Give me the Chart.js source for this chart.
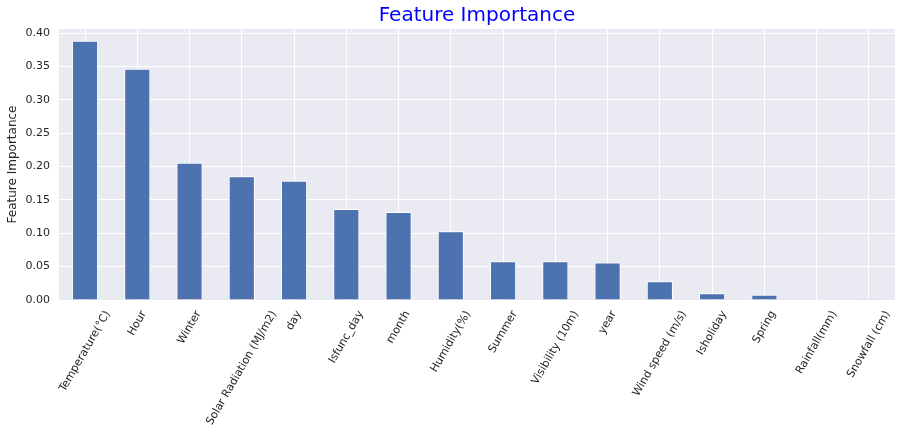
<!DOCTYPE html>
<html lang="en">
<head>
    <meta charset="UTF-8">
    <title>Feature Importance</title>
    <script src="https://cdn.jsdelivr.net/npm/chart.js"></script>
    <style>
        html, body { margin: 0; padding: 0; background: #ffffff; }
        #wrap { width: 902px; height: 434px; }
    </style>
</head>
<body>
    <div id="wrap"><canvas id="fiChart"></canvas></div>

    <script>
        // Data
        const features = ['Temperature(°C)', 'Hour', 'Winter', 'Solar Radiation (MJ/m2)', 'day', 'Isfunc_day',
            'month', 'Humidity(%)', 'Summer', 'Visibility (10m)', 'year', 'Wind speed (m/s)', 'Isholiday',
            'Spring', 'Rainfall(mm)', 'Snowfall (cm)'];
        const importance = [0.3885, 0.3465, 0.2055, 0.1855, 0.1785, 0.1365, 0.132, 0.103, 0.058, 0.058, 0.056,
            0.028, 0.010, 0.008, 0.0005, 0.0003];
        const yTicks = [0.00, 0.05, 0.10, 0.15, 0.20, 0.25, 0.30, 0.35, 0.40];

        const FONT = 'DejaVu Sans';
        const TEXT = '#262626';

        // plot background + matplotlib style labels (centered, rotated 60deg) + title over axes
        const seabornPlugin = {
            id: 'seaborn',
            beforeDraw(chart) {
                const a = chart.chartArea, ctx = chart.ctx;
                ctx.save();
                ctx.fillStyle = '#EAEAF2';
                ctx.fillRect(a.left, a.top, a.right - a.left, a.bottom - a.top);
                ctx.restore();
            },
            afterDraw(chart) {
                const a = chart.chartArea, ctx = chart.ctx;
                const xs = chart.scales.x;
                ctx.save();
                ctx.fillStyle = 'blue';
                ctx.font = '20px "' + FONT + '"';
                ctx.textAlign = 'center';
                ctx.textBaseline = 'middle';
                ctx.fillText('Feature Importance', (a.left + a.right) / 2, 16);

                ctx.fillStyle = TEXT;
                ctx.font = '11px "' + FONT + '"';
                const ang = 60 * Math.PI / 180;
                const h = 11;
                features.forEach((lab, i) => {
                    const w = ctx.measureText(lab).width;
                    const bh = w * Math.sin(ang) + h * Math.cos(ang);
                    const cx = xs.getPixelForTick(i);
                    const cy = a.bottom + 9 + bh / 2;
                    ctx.save();
                    ctx.translate(cx, cy);
                    ctx.rotate(-ang);
                    ctx.fillText(lab, 0, 0);
                    ctx.restore();
                });
                ctx.restore();
            }
        };

        const ctx = document.getElementById('fiChart').getContext('2d');
        new Chart(ctx, {
            type: 'bar',
            data: {
                labels: features,
                datasets: [{
                    data: importance,
                    backgroundColor: '#4C72B0',
                    borderColor: '#ffffff',
                    borderWidth: 1,
                    barPercentage: 0.5,
                    categoryPercentage: 1.0
                }]
            },
            options: {
                responsive: true,
                maintainAspectRatio: false,
                animation: false,
                layout: { padding: { top: 29, bottom: 134, right: 7, left: 6 } },
                plugins: {
                    legend: { display: false },
                    tooltip: { enabled: false },
                    title: { display: false }
                },
                scales: {
                    x: {
                        offset: true,
                        grid: { color: '#ffffff', lineWidth: 1, offset: false, drawTicks: false },
                        border: { display: false },
                        ticks: { display: false }
                    },
                    y: {
                        min: 0,
                        max: 0.406,
                        afterBuildTicks(scale) {
                            scale.ticks = yTicks.map(v => ({ value: v }));
                        },
                        grid: { color: '#ffffff', lineWidth: 1, drawTicks: false },
                        border: { display: false },
                        ticks: {
                            padding: 9,
                            color: TEXT,
                            font: { family: FONT, size: 11 },
                            callback: v => v.toFixed(2)
                        },
                        title: {
                            display: true,
                            text: 'Feature Importance',
                            color: TEXT,
                            font: { family: FONT, size: 12 },
                            padding: { top: 0, bottom: -4 }
                        }
                    }
                }
            },
            plugins: [seabornPlugin]
        });
    </script>
</body>
</html>
